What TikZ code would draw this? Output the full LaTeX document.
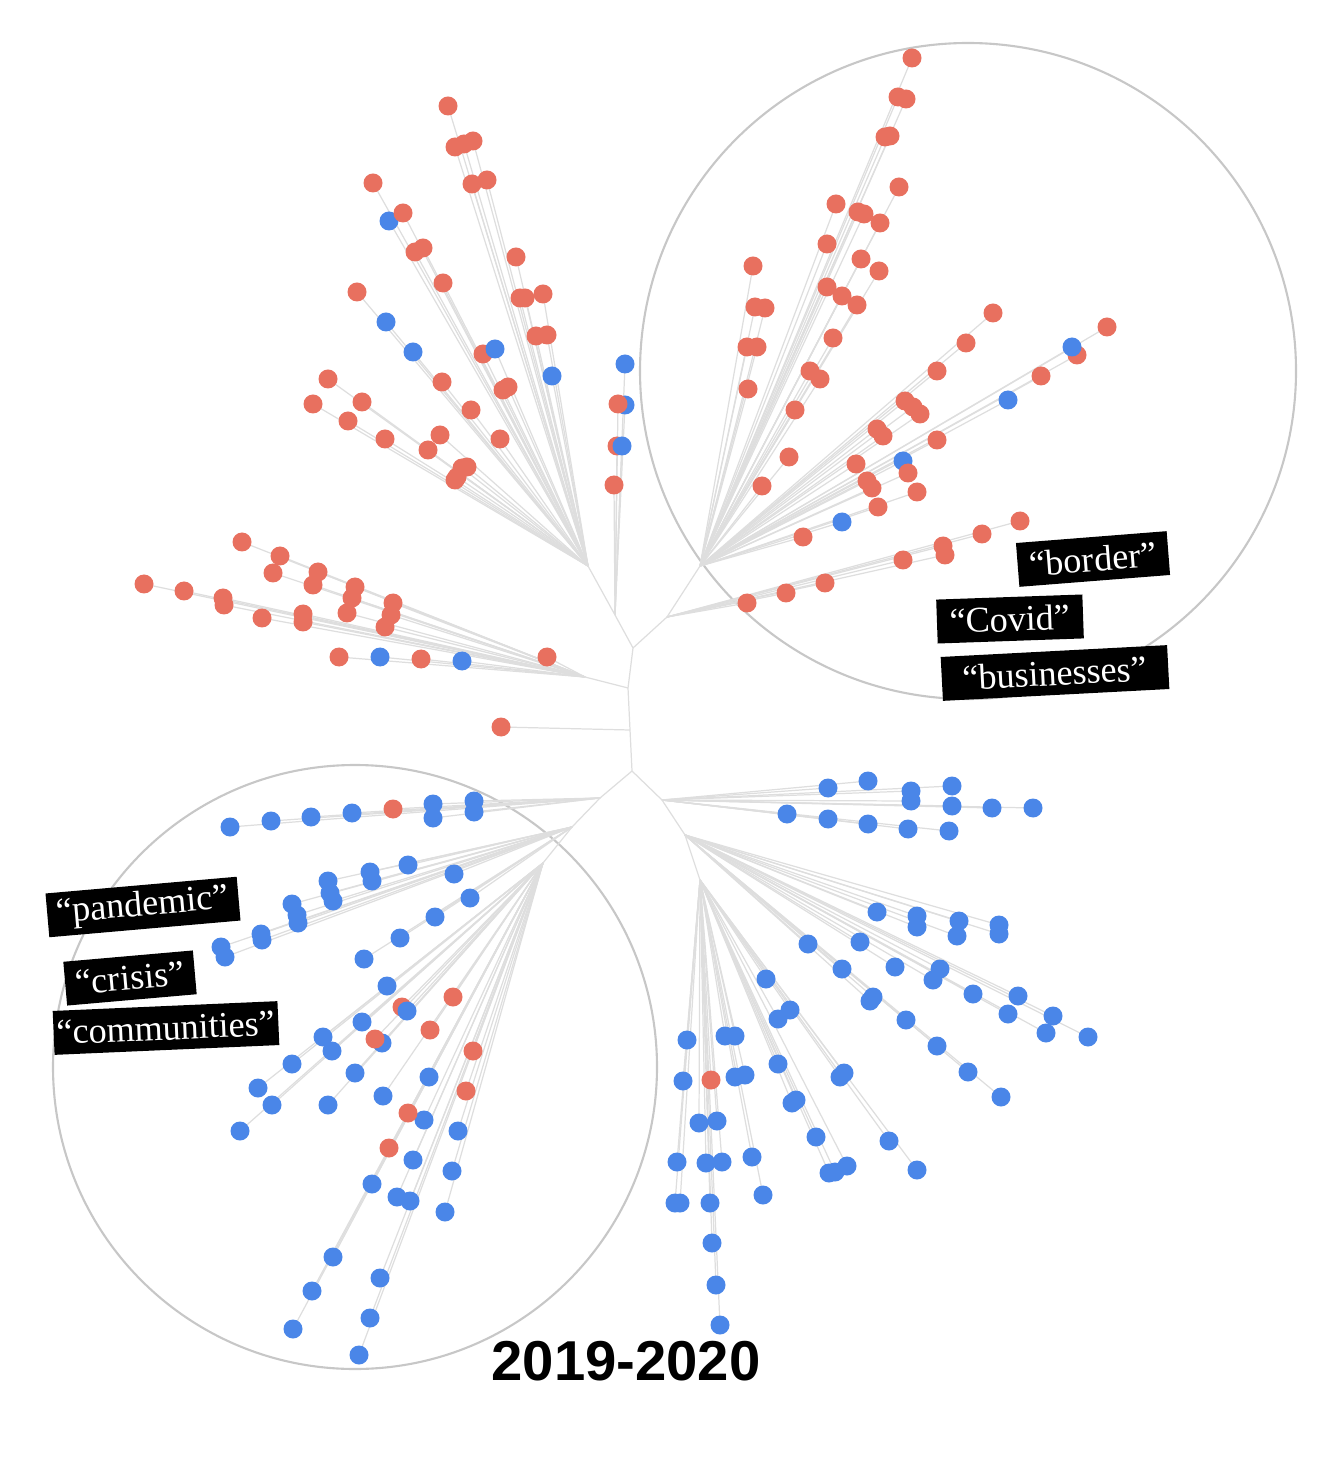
\documentclass[tikz,border=0pt]{standalone}
\usepackage{fontspec}
\newfontfamily\quotefont{Liberation Serif}
\newfontfamily\yearfont{Liberation Sans}
\definecolor{rd}{HTML}{E8705F}
\definecolor{bu}{HTML}{4A86E8}

% leaves: x/y/colour, in pixels of the page
\def\ulleaves{448/106/rd, 455/147/rd, 464/144/rd, 473/141/rd,
	472/184/rd, 487/180/rd, 516/257/rd, 520/298/rd, 525/298/rd, 543/294/rd,
	536/336/rd, 547/335/rd, 552/376/bu, 373/183/rd, 389/221/bu, 403/213/rd,
	415/252/rd, 423/248/rd, 443/283/rd, 483/354/rd, 495/349/bu, 503/390/rd,
	508/387/rd, 500/439/rd, 357/292/rd, 386/322/bu, 413/352/bu, 442/382/rd,
	471/410/rd, 462/468/rd, 457/477/rd, 328/379/rd, 362/402/rd, 440/435/rd,
	428/450/rd, 313/404/rd, 348/421/rd, 385/439/rd, 467/467/rd, 455/480/rd}
\def\umleaves{625/364/bu, 625/405/bu, 618/404/rd, 617/446/rd, 622/446/bu, 614/485/rd}
\def\lfleaves{242/542/rd, 280/556/rd, 273/573/rd, 318/572/rd,
	313/585/rd, 355/587/rd, 352/598/rd, 347/613/rd, 393/603/rd, 391/615/rd,
	385/627/rd, 144/584/rd, 184/591/rd, 223/598/rd, 224/605/rd, 262/618/rd,
	303/614/rd, 303/622/rd, 339/657/rd, 380/657/bu, 421/659/rd, 462/661/bu,
	547/657/rd}
\def\urleaves{912/58/rd, 898/97/rd, 906/99/rd, 885/137/rd,
	890/136/rd, 899/187/rd, 880/223/rd, 858/212/rd, 864/214/rd, 836/204/rd,
	827/244/rd, 861/259/rd, 879/271/rd, 827/287/rd, 842/296/rd, 857/305/rd,
	833/338/rd, 810/371/rd, 820/379/rd, 795/410/rd, 789/457/rd, 762/486/rd,
	753/266/rd, 755/307/rd, 765/308/rd, 747/347/rd, 757/347/rd, 748/389/rd,
	993/313/rd, 966/343/rd, 937/371/rd, 905/401/rd, 913/407/rd, 920/414/rd,
	877/429/rd, 883/436/rd, 856/464/rd, 1107/327/rd, 1077/355/rd, 1072/347/bu,
	1041/376/rd, 1008/400/bu, 937/440/rd, 903/461/bu, 908/473/rd, 867/481/rd,
	872/488/rd, 917/492/rd, 878/507/rd, 842/522/bu, 803/537/rd}
\def\ubleaves{1020/521/rd, 982/534/rd, 943/546/rd, 945/555/rd,
	903/560/rd, 825/583/rd, 786/593/rd, 747/603/rd}
\def\rrleaves{828/788/bu, 868/781/bu, 911/791/bu, 911/801/bu,
	952/786/bu, 952/806/bu, 992/808/bu, 1033/808/bu, 787/814/bu, 828/819/bu,
	868/824/bu, 908/829/bu, 949/831/bu}
\def\rfleaves{877/912/bu, 917/916/bu, 917/927/bu, 959/921/bu,
	957/936/bu, 999/925/bu, 999/934/bu, 808/944/bu, 860/942/bu, 895/967/bu,
	940/969/bu, 933/980/bu, 973/994/bu, 1018/996/bu, 1008/1014/bu, 1053/1016/bu,
	1046/1033/bu, 1088/1037/bu, 842/969/bu, 873/997/bu, 870/1001/bu, 906/1020/bu,
	937/1046/bu, 968/1072/bu, 1001/1097/bu}
\def\rdleaves{766/979/bu, 790/1010/bu, 778/1019/bu, 844/1073/bu,
	840/1077/bu, 889/1141/bu, 917/1170/bu, 778/1064/bu, 796/1100/bu, 792/1103/bu,
	816/1137/bu, 847/1166/bu, 835/1172/bu, 829/1173/bu, 687/1040/bu, 683/1081/bu,
	725/1036/bu, 735/1036/bu, 735/1077/bu, 745/1075/bu, 699/1123/bu, 717/1121/bu,
	677/1162/bu, 706/1163/bu, 722/1162/bu, 752/1157/bu, 675/1203/bu, 680/1203/bu,
	710/1203/bu, 763/1195/bu, 712/1243/bu, 716/1285/bu, 720/1325/bu, 711/1080/rd}
\def\lrleaves{230/827/bu, 271/821/bu, 311/817/bu, 352/813/bu,
	393/809/rd, 433/804/bu, 433/818/bu, 474/801/bu, 474/812/bu}
\def\lmleaves{408/865/bu, 454/874/bu, 370/872/bu, 372/881/bu,
	328/881/bu, 330/893/bu, 333/901/bu, 292/904/bu, 297/915/bu, 298/923/bu,
	261/934/bu, 262/940/bu, 221/947/bu, 225/957/bu, 470/898/bu, 435/917/bu,
	400/938/bu, 364/959/bu}
\def\ldleaves{387/986/bu, 453/997/rd, 402/1007/rd, 407/1011/bu,
	362/1022/bu, 430/1030/rd, 382/1043/bu, 375/1039/rd, 323/1037/bu, 332/1051/bu,
	292/1064/bu, 258/1088/bu, 272/1105/bu, 240/1131/bu, 355/1073/bu, 328/1105/bu,
	383/1096/bu, 473/1051/rd, 429/1077/bu, 466/1091/rd, 424/1120/bu, 408/1113/rd,
	458/1131/bu, 389/1148/rd, 413/1160/bu, 452/1171/bu, 372/1184/bu, 397/1197/bu,
	410/1201/bu, 445/1212/bu, 333/1257/bu, 380/1278/bu, 312/1291/bu, 370/1318/bu,
	293/1329/bu, 359/1355/bu}

% twigs from a hub to its leaves, then the leaves on top
\newcommand\twigsof[3]{%
	\foreach \x/\y/\c [count=\i] in #1 {
		\coordinate (#3\i) at (\x,\y);
		\draw[twig] (#2) -- (#3\i);
	}}
\newcommand\leavesof[2]{%
	\foreach \x/\y/\c [count=\i] in #1 {
		\node[leaf, fill=\c] (#2\i) at (\x,\y) {};
	}}

\begin{document}
\begin{tikzpicture}[x=0.1mm, y=-0.1mm,
	leaf/.style={circle, inner sep=0pt, minimum size=0.19cm},
	twig/.style={draw=black!13, line width=0.35pt},
	ring/.style={draw=black!22, line width=0.6pt},
	word/.style={fill=black, text=white, inner sep=0pt, minimum height=12.5pt,
		font=\quotefont\fontsize{10.3}{12}\selectfont}]

	\useasboundingbox (0,0) rectangle (1338,1466);

	\draw[ring] (968,371) circle[radius=3.28cm];
	\draw[ring] (355,1067) circle[radius=3.02cm];

	% trunk and hubs
	\coordinate (t1) at (633,648);
	\coordinate (t2) at (628,688);
	\coordinate (t3) at (630,730);
	\coordinate (t4) at (632,771);
	\coordinate (hm) at (615,615);
	\coordinate (hul) at (588,566);
	\coordinate (hl) at (585,677);
	\coordinate (hur1) at (667,617);
	\coordinate (hur2) at (700,566);
	\coordinate (hr1) at (662,800);
	\coordinate (hr2) at (685,835);
	\coordinate (hr3) at (700,880);
	\coordinate (hll1) at (600,798);
	\coordinate (hll2) at (572,827);
	\coordinate (hll3) at (543,863);
	\coordinate (lone) at (501,727);

	\draw[twig] (t1) -- (t2) -- (t3) -- (t4);
	\draw[twig] (t1) -- (hm) -- (hul);
	\draw[twig] (t1) -- (hur1) -- (hur2);
	\draw[twig] (t2) -- (hl);
	\draw[twig] (t3) -- (lone);
	\draw[twig] (t4) -- (hr1) -- (hr2) -- (hr3);
	\draw[twig] (t4) -- (hll1) -- (hll2) -- (hll3);

	\twigsof{\ulleaves}{hul}{ul}
	\twigsof{\umleaves}{hm}{um}
	\twigsof{\lfleaves}{hl}{lf}
	\twigsof{\urleaves}{hur2}{ur}
	\twigsof{\ubleaves}{hur1}{ub}
	\twigsof{\rrleaves}{hr1}{rr}
	\twigsof{\rfleaves}{hr2}{rf}
	\twigsof{\rdleaves}{hr3}{rd}
	\twigsof{\lrleaves}{hll1}{lr}
	\twigsof{\lmleaves}{hll2}{lm}
	\twigsof{\ldleaves}{hll3}{ld}

	\leavesof{\ulleaves}{ul}
	\leavesof{\umleaves}{um}
	\leavesof{\lfleaves}{lf}
	\leavesof{\urleaves}{ur}
	\leavesof{\ubleaves}{ub}
	\leavesof{\rrleaves}{rr}
	\leavesof{\rfleaves}{rf}
	\leavesof{\rdleaves}{rd}
	\leavesof{\lrleaves}{lr}
	\leavesof{\lmleaves}{lm}
	\leavesof{\ldleaves}{ld}
	\node[leaf, fill=rd] (lone) at (501,727) {};

	% labels
	\node[word, rotate=4.5, minimum width=43pt] (border) at (1093,559) {“border”};
	\node[word, rotate=2, minimum width=41.6pt] (covid) at (1010,619) {“Covid”};
	\node[word, rotate=3, minimum width=64.5pt] (business) at (1055,673) {“businesses”};
	\node[word, rotate=5, minimum width=54.6pt] (pandemic) at (143,907) {“pandemic”};
	\node[word, rotate=5, minimum width=37pt] (crisis) at (130,978) {“crisis”};
	\node[word, rotate=2.5, minimum width=64pt] (communities) at (166,1028) {“communities”};

	\node[font=\yearfont\bfseries\fontsize{16}{18}\selectfont] (year) at (626,1361) {2019-2020};
\end{tikzpicture}
\end{document}
